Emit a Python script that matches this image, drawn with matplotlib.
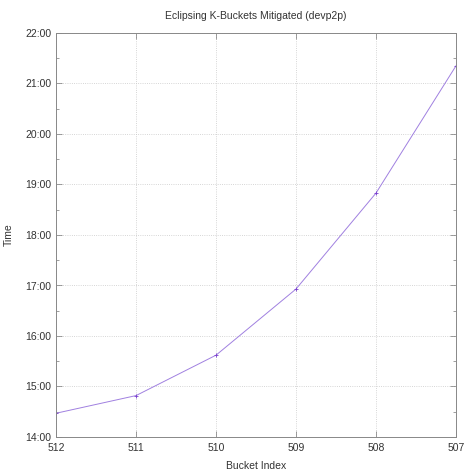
import matplotlib
matplotlib.use("Agg")
import matplotlib.pyplot as plt
from matplotlib.ticker import FuncFormatter, MultipleLocator

bucket_index = [512, 511, 510, 509, 508, 507]
time_hours = [14.47, 14.82, 15.62, 16.93, 18.83, 21.35]
y_min, y_max = 14, 22

def hhmm(v, pos):
    h = int(v)
    m = int(round((v - h) * 60))
    return f"{h:02d}:{m:02d}"

plt.rcParams['font.family'] = ['Liberation Sans', 'DejaVu Sans']
fig = plt.figure(figsize=(4.74, 4.74), dpi=100)
ax = fig.add_axes([56/474, 1-437/474, 400/474, 404/474])
ax.plot(bucket_index, time_hours, color='#a080e0', lw=0.7, marker='+', ms=2.5, mew=0.6,
        mec='#7a3fcf')
ax.set_xlim(512, 507)
ax.set_ylim(y_min, y_max)
ax.set_xticks(bucket_index)
ax.yaxis.set_major_locator(MultipleLocator(1))
ax.yaxis.set_minor_locator(MultipleLocator(0.5))
ax.yaxis.set_major_formatter(FuncFormatter(hhmm))
ax.tick_params(which='both', direction='in', top=True, right=True, labelsize=7.5,
               colors='#777777', labelcolor='#333333')
ax.tick_params(which='major', length=4, width=0.5)
ax.tick_params(which='minor', length=2, width=0.5)
ax.tick_params(axis='x', pad=4)
ax.grid(True, which='major', color='#c8c8c8', linestyle=':', linewidth=0.6)
for s in ax.spines.values():
    s.set_color('#888888')
    s.set_linewidth(0.7)
ax.set_title('Eclipsing K-Buckets Mitigated (devp2p)', fontsize=7.5, pad=10, color='#333333')
ax.set_xlabel('Bucket Index', fontsize=7.5, labelpad=6, color='#333333')
ax.set_ylabel('Time', fontsize=7.5, labelpad=8, color='#333333')
fig.savefig('out.png', dpi=100)
